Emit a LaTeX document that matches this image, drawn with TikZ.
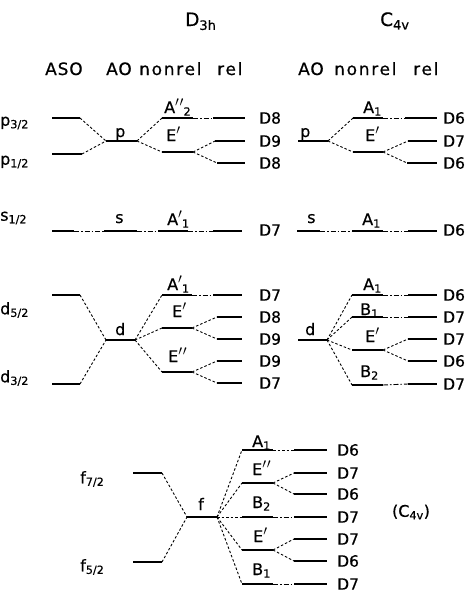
\documentclass[tikz,border=0pt]{standalone}
\usepackage{graphicx}
\usepackage{fontspec}
\setmainfont[FakeBold=0.5]{DejaVu Sans}
\newfontfamily\hdfont[LetterSpace=5,FakeBold=0.5]{DejaVu Sans}
\newfontfamily\lwfont[LetterSpace=10,FakeBold=0.5]{DejaVu Sans}
\newcommand\mklev[4]{\coordinate (#1-l) at (#2,#4); \coordinate (#1-r) at (#3,#4); \draw[level] (#1-l) -- (#1-r);}
\newcommand\pr{\raisebox{0.7ex}{\scalebox{0.8}{$\prime$}}}
\newcommand\ppr{\raisebox{0.7ex}{\scalebox{0.8}{$\prime\mkern1mu\prime$}}}
\begin{document}
\begin{tikzpicture}[x=1pt,y=-1pt,
  level/.style={line width=1.6pt},
  conn/.style={line width=0.9pt, dash pattern=on 2.5pt off 2pt},
  chain/.style={line width=0.9pt, dash pattern=on 5pt off 2pt on 1.5pt off 2pt},
  lab/.style={inner sep=0pt, font=\fontsize{16}{19}\selectfont},
  sym/.style={inner sep=0pt, anchor=base west, font=\fontsize{16}{19}\selectfont},
  rl/.style={inner sep=0pt, anchor=west, font=\fontsize{15.5}{18}\selectfont},
  hd/.style={inner sep=0pt, anchor=base west, font=\hdfont\fontsize{17}{20}\selectfont},
  hdl/.style={inner sep=0pt, anchor=base west, font=\lwfont\fontsize{17}{20}\selectfont},
  title/.style={inner sep=0pt, anchor=base west, font=\fontsize{18.5}{21}\selectfont}]
\useasboundingbox (0,0) rectangle (474,592);
% headers
\node[title] (hD) at (185,26) {D\textsubscript{3h}};
\node[title] (hC) at (380,26) {C\textsubscript{4v}};
\node[hd] (hASO) at (45,75) {ASO};
\node[hd] (hAO1) at (106,75) {AO};
\node[hdl] (hNR1) at (139,75) {nonrel};
\node[hdl] (hR1) at (217,75) {rel};
\node[hd] (hAO2) at (298,75) {AO};
\node[hdl] (hNR2) at (334,75) {nonrel};
\node[hdl] (hR2) at (413,75) {rel};
% ---------------- p, D3h
\mklev{p32}{52}{80}{118}
\mklev{p12}{52}{82}{154}
\mklev{pAO}{106}{137}{141}
\mklev{pA2}{162}{193}{118}
\mklev{pE}{162}{193}{152}
\mklev{pD8a}{213}{245}{118}
\mklev{pD9}{215}{245}{141}
\mklev{pD8b}{217}{245}{163}
\draw[conn] (p32-r) -- (pAO-l);
\draw[conn] (p12-r) -- (pAO-l);
\draw[conn] (pAO-r) -- (pA2-l);
\draw[conn] (pAO-r) -- (pE-l);
\draw[chain] (pA2-r) -- (pD8a-l);
\draw[conn] (pE-r) -- (pD9-l);
\draw[conn] (pE-r) -- (pD8b-l);
\node[lab, anchor=west] (lp32) at (0,123) {p\textsubscript{3/2}};
\node[lab, anchor=west] (lp12) at (0,162) {p\textsubscript{1/2}};
\node[sym] (tpAO) at (115,137) {p};
\node[sym] (tpA2) at (164,113) {A\ppr\textsubscript{2}};
\node[sym] (tpE) at (166,141) {E\pr};
\node[rl] (rpD8a) at (259,118) {D8};
\node[rl] (rpD9) at (259,141) {D9};
\node[rl] (rpD8b) at (259,163) {D8};
% ---------------- p, C4v
\mklev{qAO}{298}{328}{141}
\mklev{qA1}{353}{383}{118}
\mklev{qE}{353}{383}{152}
\mklev{qD6a}{405}{437}{118}
\mklev{qD7}{408}{437}{141}
\mklev{qD6b}{407}{437}{163}
\draw[conn] (qAO-r) -- (qA1-l);
\draw[conn] (qAO-r) -- (qE-l);
\draw[chain] (qA1-r) -- (qD6a-l);
\draw[conn] (qE-r) -- (qD7-l);
\draw[conn] (qE-r) -- (qD6b-l);
\node[sym] (tqAO) at (300,137) {p};
\node[sym] (tqA1) at (363,113) {A\textsubscript{1}};
\node[sym] (tqE) at (365,141) {E\pr};
\node[rl] (rqD6a) at (443,118) {D6};
\node[rl] (rqD7) at (443,141) {D7};
\node[rl] (rqD6b) at (443,163) {D6};
% ---------------- s
\mklev{s12}{52}{74}{231}
\mklev{sAO}{104}{137}{231}
\mklev{sA1}{158}{188}{231}
\mklev{sD7}{213}{242}{231}
\draw[chain] (s12-r) -- (sAO-l);
\draw[chain] (sAO-r) -- (sA1-l);
\draw[chain] (sA1-r) -- (sD7-l);
\node[lab, anchor=west] (ls12) at (0,218) {s\textsubscript{1/2}};
\node[sym] (tsAO) at (115,223) {s};
\node[sym] (tsA1) at (167,225) {A\pr\textsubscript{1}};
\node[rl] (rsD7) at (259,230) {D7};
\mklev{tAO}{297}{320}{231}
\mklev{tA1}{352}{383}{231}
\mklev{tD6}{408}{437}{231}
\draw[chain] (tAO-r) -- (tA1-l);
\draw[chain] (tA1-r) -- (tD6-l);
\node[sym] (ttAO) at (307,223) {s};
\node[sym] (ttA1) at (362,225) {A\textsubscript{1}};
\node[rl] (rtD6) at (443,230) {D6};
% ---------------- d, D3h
\mklev{d52}{52}{80}{295}
\mklev{d32}{52}{80}{384}
\mklev{dAO}{106}{135}{340}
\mklev{dA1}{162}{192}{295}
\mklev{dE1}{162}{192}{328}
\mklev{dE2}{162}{192}{372}
\mklev{dD7a}{213}{242}{295}
\mklev{dD8}{217}{242}{317}
\mklev{dD9a}{217}{242}{339}
\mklev{dD9b}{217}{242}{361}
\mklev{dD7b}{217}{242}{383}
\draw[conn] (d52-r) -- (dAO-l);
\draw[conn] (d32-r) -- (dAO-l);
\draw[conn] (dAO-r) -- (dA1-l);
\draw[conn] (dAO-r) -- (dE1-l);
\draw[conn] (dAO-r) -- (dE2-l);
\draw[chain] (dA1-r) -- (dD7a-l);
\draw[conn] (dE1-r) -- (dD8-l);
\draw[conn] (dE1-r) -- (dD9a-l);
\draw[conn] (dE2-r) -- (dD9b-l);
\draw[conn] (dE2-r) -- (dD7b-l);
\node[lab, anchor=west] (ld52) at (0,310) {d\textsubscript{5/2}};
\node[lab, anchor=west] (ld32) at (0,378) {d\textsubscript{3/2}};
\node[sym] (tdAO) at (115,335) {d};
\node[sym] (tdA1) at (167,290) {A\pr\textsubscript{1}};
\node[sym] (tdE1) at (172,317) {E\pr};
\node[sym] (tdE2) at (168,362) {E\ppr};
\node[rl] (rdD7a) at (259,295) {D7};
\node[rl] (rdD8) at (259,317) {D8};
\node[rl] (rdD9a) at (259,339) {D9};
\node[rl] (rdD9b) at (259,361) {D9};
\node[rl] (rdD7b) at (259,383) {D7};
% ---------------- d, C4v
\mklev{eAO}{298}{327}{340}
\mklev{eA1}{352}{383}{295}
\mklev{eB1}{352}{383}{317}
\mklev{eE}{352}{383}{350}
\mklev{eB2}{352}{383}{385}
\mklev{eD6a}{408}{437}{295}
\mklev{eD7a}{408}{437}{317}
\mklev{eD7b}{408}{437}{339}
\mklev{eD6b}{408}{437}{361}
\mklev{eD7c}{408}{437}{384}
\draw[conn] (eAO-r) -- (eA1-l);
\draw[conn] (eAO-r) -- (eB1-l);
\draw[conn] (eAO-r) -- (eE-l);
\draw[conn] (eAO-r) -- (eB2-l);
\draw[chain] (eA1-r) -- (eD6a-l);
\draw[chain] (eB1-r) -- (eD7a-l);
\draw[conn] (eE-r) -- (eD7b-l);
\draw[conn] (eE-r) -- (eD6b-l);
\draw[chain] (eB2-r) -- (eD7c-l);
\node[sym] (teAO) at (305,335) {d};
\node[sym] (teA1) at (363,290) {A\textsubscript{1}};
\node[sym] (teB1) at (360,315) {B\textsubscript{1}};
\node[sym] (teE) at (365,342) {E\pr};
\node[sym] (teB2) at (360,377) {B\textsubscript{2}};
\node[rl] (reD6a) at (443,295) {D6};
\node[rl] (reD7a) at (443,317) {D7};
\node[rl] (reD7b) at (443,339) {D7};
\node[rl] (reD6b) at (443,361) {D6};
\node[rl] (reD7c) at (443,384) {D7};
% ---------------- f
\mklev{f72}{133}{162}{473}
\mklev{f52}{133}{162}{562}
\mklev{fAO}{187}{217}{517}
\mklev{fA1}{242}{273}{450}
\mklev{fE2}{242}{273}{483}
\mklev{fB2}{242}{273}{517}
\mklev{fE1}{242}{273}{550}
\mklev{fB1}{242}{273}{584}
\mklev{fD6a}{294}{327}{450}
\mklev{fD7a}{294}{327}{473}
\mklev{fD6b}{294}{327}{494}
\mklev{fD7b}{294}{327}{517}
\mklev{fD7c}{294}{327}{539}
\mklev{fD6c}{294}{327}{561}
\mklev{fD7d}{294}{327}{584}
\draw[conn] (f72-r) -- (fAO-l);
\draw[conn] (f52-r) -- (fAO-l);
\draw[conn] (fAO-r) -- (fA1-l);
\draw[conn] (fAO-r) -- (fE2-l);
\draw[conn] (fAO-r) -- (fB2-l);
\draw[conn] (fAO-r) -- (fE1-l);
\draw[conn] (fAO-r) -- (fB1-l);
\draw[conn] (fA1-r) -- (fD6a-l);
\draw[conn] (fE2-r) -- (fD7a-l);
\draw[conn] (fE2-r) -- (fD6b-l);
\draw[chain] (fB2-r) -- (fD7b-l);
\draw[conn] (fE1-r) -- (fD7c-l);
\draw[conn] (fE1-r) -- (fD6c-l);
\draw[chain] (fB1-r) -- (fD7d-l);
\node[lab, anchor=west] (lf72) at (80,479) {f\textsubscript{7/2}};
\node[lab, anchor=west] (lf52) at (80,567) {f\textsubscript{5/2}};
\node[sym] (tfAO) at (198,510) {f};
\node[sym] (tfA1) at (252,447) {A\textsubscript{1}};
\node[sym] (tfE2) at (252,475) {E\ppr};
\node[sym] (tfB2) at (252,508) {B\textsubscript{2}};
\node[sym] (tfE1) at (253,542) {E\pr};
\node[sym] (tfB1) at (252,575) {B\textsubscript{1}};
\node[rl] (rfD6a) at (337,450) {D6};
\node[rl] (rfD7a) at (337,473) {D7};
\node[rl] (rfD6b) at (337,494) {D6};
\node[rl] (rfD7b) at (337,517) {D7};
\node[rl] (rfD7c) at (337,539) {D7};
\node[rl] (rfD6c) at (337,561) {D6};
\node[rl] (rfD7d) at (337,584) {D7};
\node[lab] (lC4v) at (411,512) {(C\textsubscript{4v})};
\end{tikzpicture}
\end{document}
